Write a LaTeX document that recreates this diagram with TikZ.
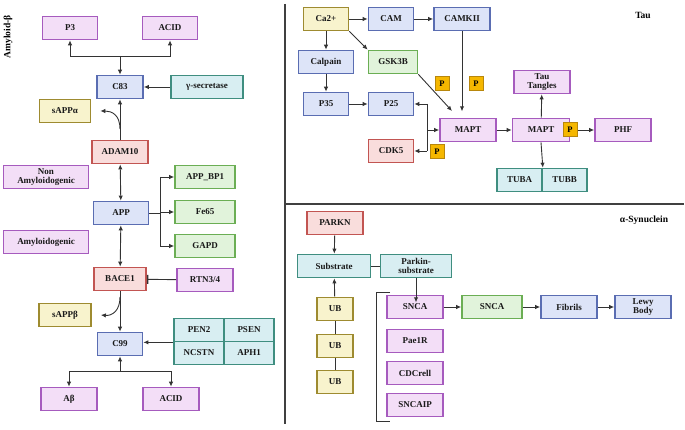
\documentclass[tikz,border=0pt]{standalone}
\usepackage{fontspec}
\setmainfont{Liberation Serif}
\usepackage{tikz}
\usetikzlibrary{arrows.meta, calc}

\definecolor{purfill}{HTML}{F3DEF7}
\definecolor{purline}{HTML}{A65BBE}
\definecolor{blufill}{HTML}{DDE4F8}
\definecolor{bluline}{HTML}{5A6DB2}
\definecolor{redfill}{HTML}{F9DDDC}
\definecolor{redline}{HTML}{C25552}
\definecolor{yelfill}{HTML}{F8F3CD}
\definecolor{yelline}{HTML}{9E8B30}
\definecolor{grnfill}{HTML}{E1F3DB}
\definecolor{grnline}{HTML}{6BAE54}
\definecolor{cyafill}{HTML}{D8EEF2}
\definecolor{cyaline}{HTML}{3F8E80}
\definecolor{phfill}{HTML}{F5B700}
\definecolor{phline}{HTML}{B8870C}
\definecolor{linegray}{HTML}{333333}

\begin{document}
\begin{tikzpicture}[x=1pt, y=-1pt,
	box/.style={draw, line width=1.7pt, minimum width=55pt, minimum height=23pt,
		inner sep=1pt, align=center, text=black!90,
		font=\fontsize{9}{8.5}\selectfont\bfseries},
	purbox/.style={box, fill=purfill, draw=purline},
	blubox/.style={box, fill=blufill, draw=bluline},
	redbox/.style={box, fill=redfill, draw=redline},
	yelbox/.style={box, fill=yelfill, draw=yelline},
	grnbox/.style={box, fill=grnfill, draw=grnline},
	cyabox/.style={box, fill=cyafill, draw=cyaline},
	phos/.style={draw=phline, fill=phfill, line width=1pt, minimum size=14pt,
		inner sep=0pt, font=\fontsize{8.5}{8.5}\selectfont\bfseries},
	link/.style={line width=0.9pt, draw=linegray},
	arr/.style={link, -{Latex[length=5pt,width=4.4pt]}},
	dbl/.style={link, {Latex[length=5pt,width=4.4pt]}-{Latex[length=5pt,width=4.4pt]}},
	inh/.style={link, -{Bar[width=9pt,line width=1.5pt]}},
	title/.style={font=\fontsize{9.5}{9.5}\selectfont\bfseries}]
	\useasboundingbox (0,0) rectangle (685,430);
	
	% panel frames
	\draw[line width=1.3pt, draw=black!75] (285,4) -- (285,424);
	\draw[line width=1.3pt, draw=black!75] (285,204) -- (684,204);
	
	% Amyloid-beta
	\node[title, rotate=90] (tamy) at (8,37) {Amyloid-β};
	\node[purbox] (p3) at (70,28) {P3};
	\node[purbox] (acida) at (170,28) {ACID};
	\node[blubox, minimum width=46pt] (c83) at (120,87) {C83};
	\node[cyabox, minimum width=72pt] (gsec) at (207,87) {γ-secretase};
	\node[yelbox, minimum width=51pt] (sappa) at (65,111) {sAPPα};
	\node[redbox, minimum width=56pt] (adam) at (120,152) {ADAM10};
	\node[purbox, minimum width=85pt] (nonamy) at (46,177) {Non\\Amyloidogenic};
	\node[blubox] (app) at (121,213) {APP};
	\node[grnbox, minimum width=60pt] (bp1) at (205,177) {APP\_BP1};
	\node[grnbox, minimum width=60pt] (fe65) at (205,212) {Fe65};
	\node[grnbox, minimum width=60pt] (gapd) at (205,246) {GAPD};
	\node[purbox, minimum width=85pt] (amy) at (46,242) {Amyloidogenic};
	\node[redbox, minimum width=52pt] (bace) at (120,279) {BACE1};
	\node[purbox, minimum width=56pt] (rtn) at (205,280) {RTN3/4};
	\node[yelbox, minimum width=52pt] (sappb) at (65,315) {sAPPβ};
	\node[blubox, minimum width=45pt] (c99) at (120,344) {C99};
	\node[cyabox, minimum width=50pt] (pen) at (199,330) {PEN2};
	\node[cyabox, minimum width=50pt] (psen) at (249,330) {PSEN};
	\node[cyabox, minimum width=50pt] (ncstn) at (199,353) {NCSTN};
	\node[cyabox, minimum width=50pt] (aph) at (249,353) {APH1};
	\node[purbox, minimum width=56pt] (abeta) at (69,399) {Aβ};
	\node[purbox, minimum width=56pt] (acidb) at (171,399) {ACID};
	
	\coordinate (jc83) at (120,56);
	\draw[arr] (jc83) -| (p3);
	\draw[arr] (jc83) -| (acida);
	\draw[arr] (jc83) -- (c83);
	\draw[arr] (gsec) -- (c83);
	\draw[arr] (adam) -- (c83);
	\coordinate (sa) at (120,129);
	\draw[arr] (sa) .. controls (120,115) and (112,111) .. ($(sappa.east)+(9,0)$);
	\draw[dbl] (adam) -- (app);
	\draw[dbl] (app) -- (bace);
	\coordinate (japp) at (160,213);
	\draw[link] (app) -- (japp);
	\draw[link] (japp |- bp1) -- (japp |- gapd);
	\foreach \t in {bp1,fe65,gapd}
	\draw[arr] (japp |- \t) -- (\t);
	\draw[inh] (rtn) -- (bace);
	\draw[arr] (bace) -- (c99);
	\coordinate (sb) at (120,297);
	\draw[arr] (sb) .. controls (120,311) and (112,316) .. ($(sappb.east)+(9,0)$);
	\draw[arr] (pen.south west) -- (pen.south west -| c99.east);
	\coordinate (jc99) at (120,371);
	\draw[arr] (jc99) -- (c99);
	\draw[arr] (jc99) -| (abeta);
	\draw[arr] (jc99) -| (acidb);
	
	% Tau
	\node[title] (ttau) at (643,15) {Tau};
	\node[yelbox, minimum width=45pt] (ca) at (326,19) {Ca2+};
	\node[blubox, minimum width=45pt] (cam) at (391,19) {CAM};
	\node[blubox, minimum width=56pt] (camk) at (462,19) {CAMKII};
	\node[blubox, minimum width=55pt] (calp) at (326,62) {Calpain};
	\node[grnbox, minimum width=49pt] (gsk) at (393,62) {GSK3B};
	\node[blubox, minimum width=45pt] (p35) at (326,104) {P35};
	\node[blubox, minimum width=45pt] (p25) at (391,104) {P25};
	\node[redbox, minimum width=45pt] (cdk) at (391,151) {CDK5};
	\node[purbox, minimum width=56pt] (mapta) at (468,130) {MAPT};
	\node[purbox, minimum width=57pt] (maptb) at (541,130) {MAPT};
	\node[purbox, minimum width=56pt] (tang) at (542,82) {Tau\\Tangles};
	\node[purbox, minimum width=56pt] (phf) at (623,130) {PHF};
	\node[cyabox, minimum width=45pt] (tuba) at (519.5,180) {TUBA};
	\node[cyabox, minimum width=45pt] (tubb) at (564.5,180) {TUBB};
	\node[phos] (pha) at (442,84) {P};
	\node[phos] (phb) at (476,84) {P};
	\node[phos] (phc) at (437,152) {P};
	\node[phos] (phd) at (570,130) {P};
	
	\draw[arr] (ca) -- (cam);
	\draw[arr] (cam) -- (camk);
	\draw[arr] (ca) -- (calp);
	\draw[arr] (ca.south east) -- (gsk.north west);
	\draw[arr] (calp) -- (p35);
	\draw[arr] (p35) -- (p25);
	\coordinate (gm) at (452,111);
	\draw[arr] (gsk.south east) -- (gm);
	\draw[arr] (camk.south) -- ++(0,80);
	\coordinate (jmapt) at (427,130);
	\draw[link] (jmapt |- p25) -- (jmapt |- cdk);
	\draw[arr] (jmapt |- p25) -- (p25);
	\draw[arr] (jmapt |- cdk) -- (cdk);
	\draw[arr] (jmapt) -- (mapta);
	\draw[arr] (mapta) -- (maptb);
	\draw[arr] (maptb) -- (tang);
	\draw[arr] (maptb.south) -- (tuba.north east);
	\draw[arr] (phd) -- (phf);
	
	% alpha-Synuclein
	\node[title] (tsyn) at (644,220) {α-Synuclein};
	\node[redbox, minimum width=56pt] (parkn) at (335,223) {PARKN};
	\node[cyabox, minimum width=73pt] (sub) at (334,266) {Substrate};
	\node[cyabox, minimum width=71pt] (psub) at (416,266) {Parkin-\\substrate};
	\foreach \n/\y in {uba/309, ubb/346, ubc/382}
	\node[yelbox, minimum width=36pt] (\n) at (335,\y) {UB};
	\foreach \n/\y/\t in {sncaa/307/SNCA, pae/341/Pae1R, cdc/373/CDCrell, sncaip/405/SNCAIP}
	\node[purbox, minimum width=56pt] (\n) at (415,\y) {\t};
	\node[grnbox, minimum width=60pt] (sncab) at (492,307) {SNCA};
	\node[blubox, minimum width=56pt] (fib) at (569,307) {Fibrils};
	\node[blubox, minimum width=56pt] (lewy) at (643,307) {Lewy\\Body};
	
	\draw[arr] (parkn) -- (sub);
	\draw[link] (sub) -- (psub);
	\draw[arr] (psub.south) -- ++(0,24);
	\draw[arr] (uba) -- (sub);
	\draw[link] (uba) -- (ubb);
	\draw[link] (ubb) -- (ubc);
	\draw[link] (390,292) -- (376,292) -- (376,421) -- (390,421);
	\draw[arr] (sncaa) -- (sncab);
	\draw[arr] (sncab) -- (fib);
	\draw[arr] (fib) -- (lewy);
\end{tikzpicture}
\end{document}
